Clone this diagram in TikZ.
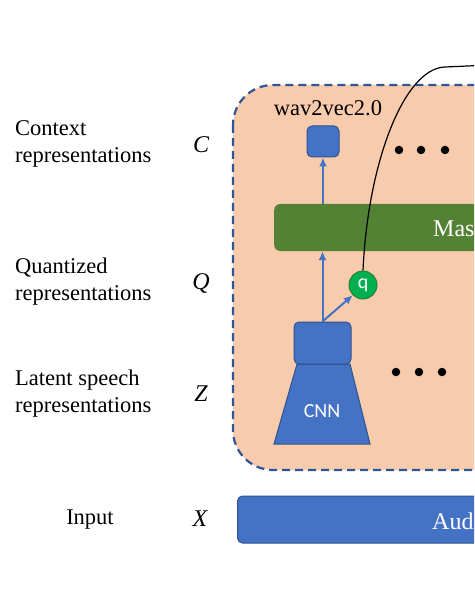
\documentclass[tikz,border=0pt]{standalone}
\usepackage{fontspec}
\setmainfont{Liberation Serif}
\newfontfamily\calib{Carlito}
\usepackage{tikz}
\usetikzlibrary{arrows.meta, positioning}
\definecolor{peach}{HTML}{F8CBAD}
\definecolor{boxblue}{HTML}{2F5597}
\definecolor{cellblue}{HTML}{4472C4}
\definecolor{celledge}{HTML}{2F528F}
\definecolor{barcol}{HTML}{548235}
\definecolor{qgreen}{HTML}{00B050}
\definecolor{qedge}{HTML}{2E7D32}
\tikzstyle{rowname} = [font=\fontsize{22.5}{27}\selectfont, align=left, anchor=west, inner sep=0pt]
\tikzstyle{symb} = [font=\fontsize{24}{28}\selectfont\itshape, inner sep=0pt]
\tikzstyle{cell} = [draw=celledge, fill=cellblue, line width=1pt, rounded corners=5pt]
\tikzstyle{flow} = [draw=cellblue, line width=2pt, -{Latex[length=9pt,width=8pt]}]
\tikzstyle{dotmark} = [circle, fill=black, inner sep=0pt, minimum size=8.5pt]
\tikzstyle{bartext} = [text=white, font=\fontsize{24}{28}\selectfont, anchor=west, inner sep=0pt]

\begin{document}
\begin{tikzpicture}[x=1pt,y=-1pt]
	\useasboundingbox (0,0) rectangle (474,612);
	\clip (0,0) rectangle (474,612);
	% row names
	\node[rowname] (ctxname) at (15,144) {Context\\representations};
	\node[rowname] (qname) at (15,282) {Quantized\\representations};
	\node[rowname] (zname) at (15,394) {Latent speech\\representations};
	\node[rowname, anchor=center] (inname) at (90,520) {Input};
	\node[symb] (csym) at (201,145) {C};
	\node[symb] (qsym) at (201,283) {Q};
	\node[symb] (zsym) at (201,394) {Z};
	\node[symb] (xsym) at (200,519) {X};
	% model box
	\draw[boxblue, fill=peach, line width=2.2pt, dash pattern=on 8pt off 5pt, rounded corners=40pt] (233,85) rectangle (600,470);
	\node[font=\fontsize{22.5}{27}\selectfont] (w2v) at (328,108) {wav2vec2.0};
	\node[cell, minimum width=32pt, minimum height=31pt] (ctx) at (323,141.5) {};
	\node[dotmark] (d1) at (399,150) {};
	\node[dotmark] (d2) at (421,150) {};
	\node[dotmark] (d3) at (445,150) {};
	\node[fill=barcol, rounded corners=6pt, minimum width=320pt, minimum height=47pt, anchor=west] (mask) at (274,227.5) {};
	\node[bartext] (masktxt) at (433,229) {Mas};
	% CNN encoder
	\draw[draw=celledge, fill=cellblue, line width=1pt] (297,364) -- (350,364) -- (370,444) -- (274,444) -- cycle;
	\node[cell, minimum width=57pt, minimum height=42pt] (feat) at (322.5,343) {};
	\node[text=white, font=\fontsize{20}{24}\selectfont\calib, inner sep=0pt] (cnn) at (322,411) {CNN};
	\node[circle, draw=qedge, fill=qgreen, line width=1pt, minimum size=28pt, inner sep=0pt, text=white, font=\fontsize{20}{24}\selectfont\calib] (quant) at (363,285) {q};
	\node[dotmark] (d4) at (396,372) {};
	\node[dotmark] (d5) at (419,372) {};
	\node[dotmark] (d6) at (442,372) {};
	% input
	\node[cell, minimum width=330pt, minimum height=47pt, anchor=west] (audio) at (237,519.5) {};
	\node[bartext] (audtxt) at (432,521) {Aud};
	% connections
	\draw[flow] (feat.north) -- (feat.north |- mask.south);
	\draw[flow] (feat.north) -- (quant.south west);
	\draw[flow] (ctx.south |- mask.north) -- (ctx.south);
	\coordinate (bend) at (445,67);
	\coordinate (far) at (490,65);
	\draw[black, line width=1.2pt] (quant.north) .. controls (368,160) and (405,68) .. (bend) -- (far);
\end{tikzpicture}
\end{document}
